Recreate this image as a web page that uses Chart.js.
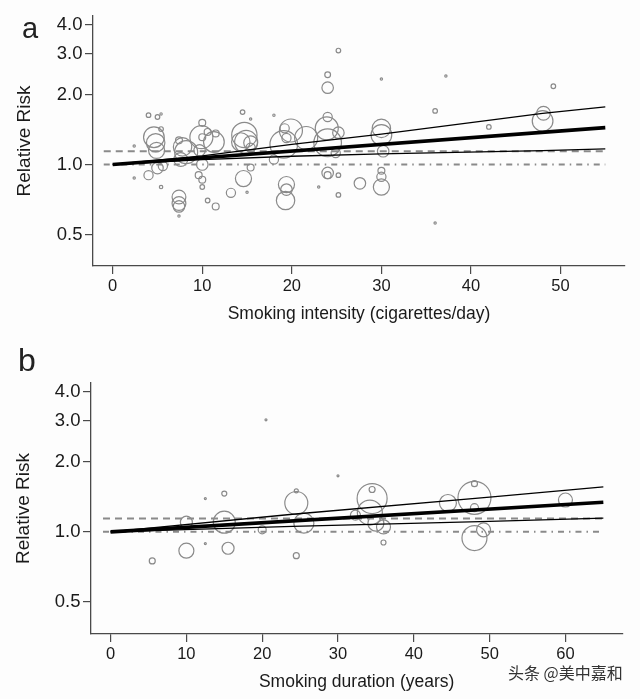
<!DOCTYPE html>
<html><head><meta charset="utf-8">
<script src="https://cdn.jsdelivr.net/npm/chart.js@4/dist/chart.umd.min.js"></script>
<style>
html,body{margin:0;padding:0;background:#fdfdfd;}
#wrap{position:relative;width:640px;height:699px;overflow:hidden;}
.cv{position:absolute;left:0;}
.lbl{position:absolute;color:#222;font-family:"Liberation Sans",Arial,sans-serif;line-height:1;white-space:nowrap;}
</style></head><body>
<div id="wrap">
<div class="cv" style="top:0;width:640px;height:340px"><canvas id="ca"></canvas></div>
<div class="cv" style="top:340px;width:640px;height:359px"><canvas id="cb"></canvas></div>
<div class="lbl" style="left:22px;top:14px;font-size:29px">a</div>
<div class="lbl" style="left:18px;top:344px;font-size:32px">b</div>
<div class="lbl" style="left:508px;top:664px;font-size:16px;font-family:'Noto Sans CJK SC';color:#333">头条 @美中嘉和</div>
</div>
<script>
// ---------- shared ----------
const rrTicks = [0.5, 1.0, 2.0, 3.0, 4.0];
const pooledRR = 1.14;   // dashed grey reference
const nullRR = 1.0;      // dash-dot grey reference

// ---------- panel a: smoking intensity ----------
const intensityTicks = [0, 10, 20, 30, 40, 50];
const intensityX  = [4.0,5.0,5.4,4.6,4.8,4.9,5.4,2.4,2.4,4.0,5.0,5.6,5.4,7.4,7.4,7.4,7.4,7.4,7.8,8.2,7.6,
  10.0,9.9,10.0,10.6,11.5,11.3,9.7,10.0,9.6,10.0,10.0,10.6,11.5,13.2,
  14.5,15.4,14.7,14.9,14.3,15.4,15.4,15.4,14.6,15.0,
  18.0,18.0,19.1,19.9,19.2,19.4,19.4,19.4,19.3,23.0,21.6,
  25.2,24.0,24.0,30.0,24.0,23.9,25.2,24.0,24.9,30.0,30.0,30.2,30.0,30.0,30.0,24.0,24.0,25.2,25.2,27.6,
  36.0,37.2,36.0,42.0,49.2,48.1,48.0];
const intensityRR = [1.63,1.60,1.65,1.31,1.24,1.15,1.42,1.20,0.875,0.90,0.965,0.985,0.80,0.725,0.68,0.66,0.60,1.27,1.19,1.13,1.05,
  1.51,1.31,1.31,1.38,1.36,1.25,1.15,1.00,0.90,0.86,0.80,0.70,0.66,0.755,
  1.68,1.57,1.34,1.25,1.25,1.24,1.18,0.97,0.87,0.76,
  1.63,1.05,1.22,1.40,1.43,1.30,0.82,0.78,0.70,0.80,1.30,
  3.09,2.43,2.14,2.33,1.60,1.43,1.37,1.24,1.12,1.43,1.34,1.14,0.94,0.885,0.80,0.92,0.90,0.90,0.74,0.83,
  1.70,2.40,0.56,1.45,2.17,1.66,1.54];
const intensityWeight = [2,2,1,9,8,7,2,1,1,4,5,4,1.5,6,6,5,1,3,8,10,6,
  3,10,3,3,3,9,5,5,3,3,2,2,3,4,
  2,1,11,10,8,6,4,3,7,1,
  1,4,12,10,4,4,7,5,8,1,10,
  2,2.5,5,1,4,10,5,12,4,8,9,5,3,4,7,5,3,2,2,5,
  2,1,1,2,2,6,9];
const intensityFitX = [0, 55];
const intensityFitRR = [1.0, 1.44];
const intensityUpperX = [0, 10, 20, 30, 48, 55];
const intensityUpperRR = [1.0, 1.09, 1.22, 1.35, 1.66, 1.77];
const intensityLowerX = [0, 10, 20, 30, 48, 55];
const intensityLowerRR = [1.0, 1.05, 1.085, 1.11, 1.146, 1.166];
const intensityRefX = [-1, 55];

// ---------- panel b: smoking duration ----------
const durationTicks = [0, 10, 20, 30, 40, 50, 60];
const durationX  = [20.5,12.5,15.0,24.5,24.5,10.0,15.0,20.0,10.0,12.5,15.5,5.5,24.5,25.5,
  30.0,34.5,34.5,34.2,32.3,35.0,36.0,36.0,44.5,48.0,48.0,48.0,48.0,49.2,60.0];
const durationRR = [3.03,1.39,1.46,1.50,1.33,1.10,1.10,1.02,0.83,0.89,0.85,0.75,0.79,1.09,
  1.74,1.39,1.52,1.21,1.18,1.09,1.05,0.90,1.33,1.40,1.61,1.27,0.94,1.02,1.37];
const durationWeight = [1,1,2.5,2,11.5,6,11,4,7.5,1,6,3,3,10,
  1,15,3,12.5,5,8,7,2.5,8.5,16.5,3,4,12.5,7,7];
const durationFitX = [0, 65];
const durationFitRR = [1.0, 1.34];
const durationUpperX = [0, 24, 50, 65];
const durationUpperRR = [1.0, 1.19, 1.41, 1.56];
const durationLowerX = [0, 24, 50, 65];
const durationLowerRR = [1.0, 1.055, 1.11, 1.145];
const durationRefX = [-1, 65];

// ---------- drawing ----------
const FONT = '"Liberation Sans", Arial, sans-serif';
const AXIS = '#4a4a4a', TXT = '#1a1a1a', GREY = '#8a8a8a';
const zip = (xs, ys) => xs.map((x, i) => ({x, y: ys[i]}));

function lineDs(xs, ys, color, width, dash) {
  return {type: 'line', data: zip(xs, ys), borderColor: color, borderWidth: width,
    borderDash: dash || [], pointRadius: 0, fill: false, tension: 0, borderCapStyle: 'butt'};
}

function makeChart(id, p) {
  const bubbles = p.bx.map((x, i) => ({x, y: p.by[i], r: p.bw[i] * p.rscale}));
  const datasets = [
    lineDs(p.fitX, p.fitRR, '#000', 3.6),
    lineDs(p.upX, p.upRR, '#000', 1.3),
    lineDs(p.loX, p.loRR, '#000', 1.3),
    lineDs(p.refX, p.refX.map(() => pooledRR), GREY, 2, [7, 5]),
    lineDs(p.refX, p.refX.map(() => nullRR), GREY, 2, [6, 5, 1.5, 5]),
    {type: 'bubble', data: bubbles, backgroundColor: 'rgba(0,0,0,0)', borderColor: GREY, borderWidth: 1.2}
  ];
  return new Chart(document.getElementById(id), {
    type: 'bubble',
    data: {datasets},
    options: {
      responsive: true, maintainAspectRatio: false, animation: false, events: [],
      layout: {padding: p.pad},
      plugins: {legend: {display: false}, tooltip: {enabled: false}},
      scales: {
        x: {
          type: 'linear', min: p.xmin, max: p.xmax,
          afterBuildTicks: s => { s.ticks = p.xticks.map(v => ({value: v})); },
          afterFit: s => { s.height = p.xh; },
          ticks: {autoSkip: false, maxRotation: 0, padding: 3, color: TXT, font: {family: FONT, size: 16.5}},
          grid: {display: true, drawOnChartArea: false, drawTicks: true, tickLength: 8, color: AXIS, lineWidth: 1.2},
          border: {display: true, color: AXIS, width: 1.3},
          title: {display: true, text: p.xtitle, color: TXT, font: {family: FONT, size: 17.5}, padding: {top: 0, bottom: p.xtpad}}
        },
        y: {
          type: 'logarithmic', min: p.ymin, max: p.ymax,
          afterBuildTicks: s => { s.ticks = rrTicks.map(v => ({value: v})); },
          afterFit: s => { s.width = p.yw; },
          ticks: {autoSkip: false, padding: 2.5, color: TXT, font: {family: FONT, size: 18.5},
            callback: v => Number(v).toFixed(1)},
          grid: {display: true, drawOnChartArea: false, drawTicks: true, tickLength: 8, color: AXIS, lineWidth: 1.2},
          border: {display: true, color: AXIS, width: 1.3},
          title: {display: true, text: 'Relative Risk', color: TXT, font: {family: FONT, size: 19}, padding: {top: p.ytpad, bottom: 0}}
        }
      }
    }
  });
}

makeChart('ca', {
  bx: intensityX, by: intensityRR, bw: intensityWeight, rscale: 1.15,
  fitX: intensityFitX, fitRR: intensityFitRR, upX: intensityUpperX, upRR: intensityUpperRR,
  loX: intensityLowerX, loRR: intensityLowerRR, refX: intensityRefX,
  xticks: intensityTicks, xmin: -2.2, xmax: 57.2, ymin: 0.366, ymax: 4.35,
  pad: {top: 16, right: 12, left: 0, bottom: 0}, yw: 93, xh: 74, xtpad: 15.5, ytpad: 13.1,
  xtitle: 'Smoking intensity (cigarettes/day)'
});
makeChart('cb', {
  bx: durationX, by: durationRR, bw: durationWeight, rscale: 1.0,
  fitX: durationFitX, fitRR: durationFitRR, upX: durationUpperX, upRR: durationUpperRR,
  loX: durationLowerX, loRR: durationLowerRR, refX: durationRefX,
  xticks: durationTicks, xmin: -2.58, xmax: 67.5, ymin: 0.364, ymax: 4.36,
  pad: {top: 43, right: 14, left: 0, bottom: 0}, yw: 91, xh: 65, xtpad: 6.5, ytpad: 12.1,
  xtitle: 'Smoking duration (years)'
});
</script>
</body></html>
